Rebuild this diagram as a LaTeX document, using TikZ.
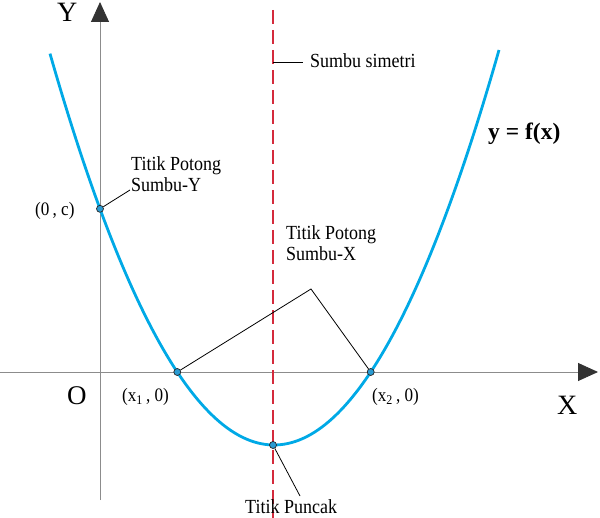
\documentclass[tikz,border=0pt]{standalone}
\usepackage{fontspec}
\setmainfont{Liberation Serif}
\newfontfamily\condfont{Liberation Serif}[FakeStretch=0.9]
\usetikzlibrary{arrows.meta}
\definecolor{curvecol}{HTML}{00A9E6}
\definecolor{dotcol}{HTML}{2A9BD2}
\definecolor{symred}{HTML}{D42A3C}
\definecolor{axisgray}{HTML}{8C8C8C}
\definecolor{tipgray}{HTML}{333333}
\tikzset{
  axisline/.style={draw=axisgray, line width=0.9pt, -{Triangle[length=20pt,width=18pt,color=tipgray]}},
  symline/.style={draw=symred, line width=1.4pt, dash pattern=on 14pt off 6pt},
  curveline/.style={draw=curvecol, line width=2.8pt},
  leader/.style={draw=black, line width=0.8pt},
  ptdot/.style={circle, draw=black!85, fill=dotcol, line width=0.7pt, inner sep=0pt, minimum size=7pt},
  lbl/.style={inner sep=0pt, font=\condfont\fontsize{20}{21}\selectfont, align=left},
  coordlbl/.style={inner sep=0pt, font=\condfont\fontsize{19}{20}\selectfont},
  axislbl/.style={inner sep=0pt, font=\fontsize{28}{30}\selectfont},
}
\begin{document}
\begin{tikzpicture}[x=1pt,y=-1pt]
\useasboundingbox (0,0) rectangle (600,518);
% axes
\coordinate (yb) at (100,500);
\coordinate (yt) at (100,2);
\coordinate (xl) at (0,372);
\coordinate (xr) at (598,372);
\draw[axisline] (yb) -- (yt);
\draw[axisline] (xl) -- (xr);
% symmetry line
\coordinate (st) at (273,10);
\coordinate (sb) at (273,520);
\draw[symline] (st) -- (sb);
% parabola
\draw[curveline] plot[domain=50:499, samples=120, smooth] (\x, {445-0.78*(0.1*\x-27.4)*(0.1*\x-27.4)});
% points
\node[ptdot] (yint) at (100,208.8) {};
\node[ptdot] (xone) at (177.3,372) {};
\node[ptdot] (xtwo) at (370.7,372) {};
\node[ptdot] (vtx) at (273,445) {};
% axis labels
\node[axislbl, anchor=base west] (ylab) at (57,22) {Y};
\node[axislbl, anchor=base west] (xlab) at (557,415) {X};
\node[axislbl, anchor=base west, font=\fontsize{27}{30}\selectfont] (olab) at (67,405) {O};
% function label
\node[inner sep=0pt, anchor=base west, font=\fontsize{23.5}{24}\selectfont\bfseries] (flab) at (488,140) {y = f(x)};
% symmetry label
\coordinate (sleadA) at (273,62);
\coordinate (sleadB) at (303,62);
\node[lbl, anchor=base west] (slab) at (310,68) {Sumbu simetri};
\draw[leader] (sleadA) -- (sleadB);
% y-intercept label
\node[lbl, anchor=base west] (ylbl) at (131,192) {Titik Potong\\Sumbu-Y};
\coordinate (yleadend) at (130,190);
\draw[leader] (yint) -- (yleadend);
\node[coordlbl, anchor=base west] (clab) at (35,216) {(0\,, c)};
% x-intercepts label
\node[lbl, anchor=base west] (xlbl) at (286,261) {Titik Potong\\Sumbu-X};
\coordinate (peak) at (311,289);
\draw[leader] (xone) -- (peak) -- (xtwo);
\node[coordlbl, anchor=base west] (x1lab) at (122,402) {(x\textsubscript{1}\,, 0)};
\node[coordlbl, anchor=base west] (x2lab) at (372,402) {(x\textsubscript{2}\,, 0)};
% vertex label
\coordinate (vleadend) at (300,496);
\draw[leader] (vtx) -- (vleadend);
\node[lbl, anchor=base west] (vlbl) at (245,514) {Titik Puncak};
\end{tikzpicture}
\end{document}
